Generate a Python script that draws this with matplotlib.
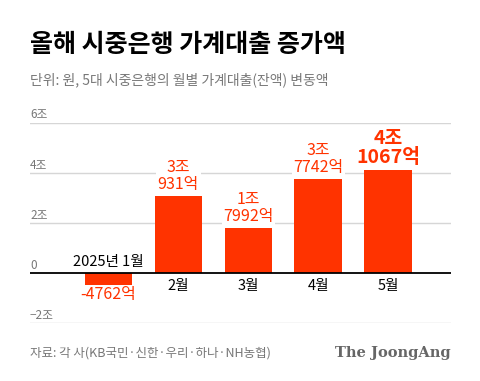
import matplotlib.pyplot as plt
from matplotlib.transforms import blended_transform_factory

plt.rcParams["font.family"] = ["Noto Sans CJK KR", "DejaVu Sans"]

# 데이터 (단위: 조 원)
months = ["2025년 1월", "2월", "3월", "4월", "5월"]
values = [-0.4762, 3.0931, 1.7992, 3.7742, 4.1067]
value_labels = ["-4762억", "3조\n931억", "1조\n7992억", "3조\n7742억", "4조\n1067억"]
yticks = [-2, 0, 2, 4, 6]
ytick_labels = ["−2조", "0", "2조", "4조", "6조"]

RED = "#ff3300"
GRAY = "#777777"

fig = plt.figure(figsize=(4.8, 3.81), dpi=100)
ax = fig.add_axes([0.0625, 0.1514, 0.8771, 0.5258])

x = list(range(len(months)))
ax.bar(x, values, width=0.68, color=RED, zorder=3)

ax.set_xlim(-1.123, 4.90)
ax.set_ylim(-2, 6)
for s in ax.spines.values():
    s.set_visible(False)
ax.set_xticks([])
ax.set_yticks([])

for t in yticks:
    if t == 0:
        ax.axhline(0, color="black", lw=1.3, zorder=4)
    else:
        ax.axhline(t, color="#d6d6d6", lw=1, zorder=1)

trans = blended_transform_factory(ax.transAxes, ax.transData)
for t, lab in zip(yticks, ytick_labels):
    ax.text(0, t + 0.06, lab, transform=trans, ha="left", va="bottom",
            fontsize=8.5, color=GRAY)

for i, (v, lab, m) in enumerate(zip(values, value_labels, months)):
    last = i == len(values) - 1
    if v < 0:
        ax.text(i, v - 0.05, lab, ha="center", va="top", color=RED,
                fontsize=11.5, linespacing=1.0)
        ax.text(i, 0.15, m, ha="center", va="bottom", color="black",
                fontsize=10.5)
    else:
        ax.text(i, v + 0.12, lab, ha="center", va="bottom", color=RED,
                fontsize=14 if last else 11.5,
                fontweight="bold" if last else "medium",
                linespacing=1.0, zorder=5,
                bbox=dict(facecolor="white", edgecolor="none", pad=1))
        ax.text(i, -0.22, m, ha="center", va="top", color="black",
                fontsize=10.5)

fig.text(0.0625, 1 - 45 / 381, "올해 시중은행 가계대출 증가액", ha="left",
         va="center", fontsize=18, fontweight="bold", color="black")
fig.text(0.0625, 1 - 80 / 381, "단위: 원, 5대 시중은행의 월별 가계대출(잔액) 변동액",
         ha="left", va="center", fontsize=10, color=GRAY)
fig.text(0.0625, 1 - 353 / 381, "자료: 각 사(KB국민·신한·우리·하나·NH농협)",
         ha="left", va="center", fontsize=9, color=GRAY)
fig.text(0.9396, 1 - 353 / 381, "The JoongAng", ha="right", va="center",
         fontsize=10.5, fontweight="bold", color="#666666",
         family=["DejaVu Serif"])

fig.savefig("out.png", dpi=100, facecolor="white")
